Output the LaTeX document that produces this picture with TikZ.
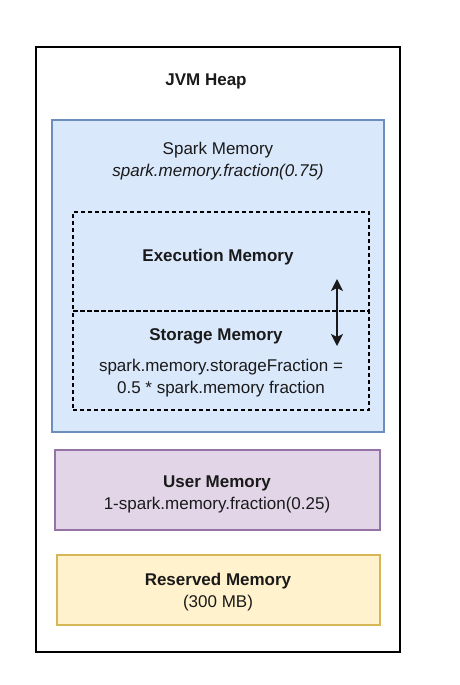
\documentclass[tikz,border=0pt]{standalone}
\usepackage{fontspec}
\setmainfont{Liberation Sans}
\usetikzlibrary{arrows.meta}
\definecolor{txt}{HTML}{1A1A1A}
\definecolor{bluefill}{HTML}{DAE8FC}
\definecolor{blueline}{HTML}{6C8EBF}
\definecolor{purpfill}{HTML}{E1D5E7}
\definecolor{purpline}{HTML}{9673A6}
\definecolor{yelfill}{HTML}{FFF2CC}
\definecolor{yelline}{HTML}{D6B656}
\tikzset{
  region/.style={draw, anchor=north west, inner sep=0pt, outer sep=0pt, line width=1.1pt},
  label/.style={text=txt, align=center, font=\fontsize{17}{22}\selectfont, inner sep=0pt},
  dashbox/.style={draw, dashed, dash pattern=on 4pt off 3pt, line width=1.3pt, anchor=north west, inner sep=0pt, outer sep=0pt}
}
\begin{document}
\begin{tikzpicture}[x=1pt,y=-1pt]
\useasboundingbox (0,0) rectangle (459,685);
\fill[white] (0,0) rectangle (459,685);
% outer heap
\node[region, line width=1.4pt, minimum width=364pt, minimum height=605pt] (heap) at (36,47) {};
\node[label, font=\fontsize{17}{22}\selectfont\bfseries] (heapt) at (206,81) {JVM Heap};
% spark memory
\node[region, fill=bluefill, draw=blueline, minimum width=332pt, minimum height=312pt] (spark) at (52,120) {};
\node[label] (sparkt) at (218,161) {Spark Memory\\\itshape spark.memory.fraction(0.75)};
% dashed unified region
\node[dashbox, minimum width=296pt, minimum height=99pt] (exec) at (73,212) {};
\node[dashbox, minimum width=296pt, minimum height=99pt] (stor) at (73,311) {};
\node[label, font=\fontsize{17}{22}\selectfont\bfseries] (exect) at (218,257) {Execution Memory};
\node[label, font=\fontsize{17}{22}\selectfont\bfseries] (stort) at (216,336) {Storage Memory};
\node[label] (stort2) at (221,378) {spark.memory.storageFraction =\\0.5 * spark.memory fraction};
\coordinate (atop) at (337,279);
\coordinate (abot) at (337,346);
\draw[{Stealth[length=12pt,width=12pt,inset=3pt]}-{Stealth[length=12pt,width=12pt,inset=3pt]}, line width=1.5pt, txt] (atop) -- (abot);
% user memory
\node[region, fill=purpfill, draw=purpline, minimum width=325pt, minimum height=80pt] (user) at (55,450) {};
\node[label] (usert) at (217,494) {\bfseries User Memory\\1-spark.memory.fraction(0.25)};
% reserved memory
\node[region, fill=yelfill, draw=yelline, minimum width=323pt, minimum height=70pt] (res) at (57,555) {};
\node[label] (rest) at (218,592) {\bfseries Reserved Memory\\(300 MB)};
\end{tikzpicture}
\end{document}
